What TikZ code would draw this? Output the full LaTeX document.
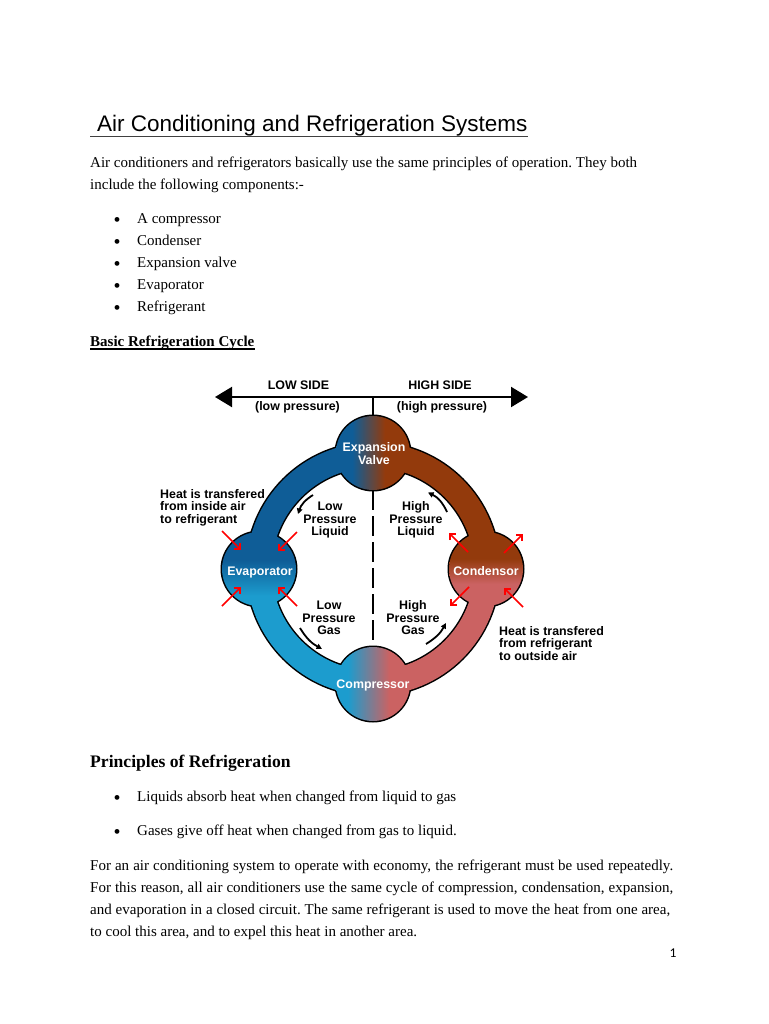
\documentclass[tikz,border=0pt]{standalone}
\usepackage{fontspec}
\setmainfont{Liberation Serif}
\newfontfamily\arial{Liberation Sans}
\newfontfamily\carlito{Carlito}
\usetikzlibrary{arrows.meta}
\definecolor{dblue}{RGB}{15,93,151}
\definecolor{lblue}{RGB}{28,156,206}
\definecolor{mbrown}{RGB}{147,58,12}
\definecolor{mpink}{RGB}{203,98,98}
\pgfdeclareverticalshading{evapsh}{100bp}{color(0bp)=(lblue); color(32bp)=(lblue); color(56bp)=(dblue); color(100bp)=(dblue)}
\pgfdeclareverticalshading{condsh}{100bp}{color(0bp)=(mpink); color(40bp)=(mpink); color(57bp)=(mbrown); color(100bp)=(mbrown)}
\pgfdeclarehorizontalshading{expsh}{100bp}{color(0bp)=(dblue); color(36bp)=(dblue); color(58bp)=(mbrown); color(100bp)=(mbrown)}
\pgfdeclarehorizontalshading{compsh}{100bp}{color(0bp)=(lblue); color(33bp)=(lblue); color(61bp)=(mpink); color(100bp)=(mpink)}
\begin{document}
\frenchspacing
\begin{tikzpicture}[x=1pt,y=-1pt,
  body/.style={font=\fontsize{15}{18}\selectfont, anchor=base west, inner sep=0},
  bodyb/.style={body, font=\bfseries\fontsize{15}{18}\selectfont},
  bul/.style={font=\fontsize{20}{20}\selectfont, anchor=base, inner sep=0},
  lbl/.style={font=\arial\bfseries\fontsize{12.4}{13}\selectfont, inner sep=0, anchor=base},
  lblw/.style={lbl, anchor=base west},
  wlbl/.style={lbl, white},
  unit/.style={circle, inner sep=0, minimum size=74pt},
  blkarr/.style={line width=1.8pt, -{Triangle[length=5.5pt,width=5.5pt]}},
  redarr/.style={red, line width=1.6pt, -{Straight Barb[length=4.5pt,width=9pt]}}]
\fill[white] (0,0) rectangle (768,1024);
\useasboundingbox (0,0) rectangle (768,1024);

% ---------- header text ----------
\node[body, font=\arial\fontsize{22.5}{26}\selectfont] (title) at (90,132) {\hspace*{7pt}Air Conditioning and Refrigeration Systems};
\draw[line width=1.5pt, black!75] ([yshift=-4.5pt]title.base west) -- ([yshift=-4.5pt]title.base east);

\node[body] (p1) at (90,168) {Air conditioners and refrigerators basically use the same principles of operation. They both};
\node[body] (p2) at (90,190) {include the following components:-};

\foreach \t [count=\i] in {A compressor, Condenser, Expansion valve, Evaporator, Refrigerant} {
  \node[bul] (bu\i) at (117,204+22*\i) {\textbullet};
  \node[body] (it\i) at (137,201+22*\i) {\t};
}

\node[bodyb] (brc) at (90,346) {Basic Refrigeration Cycle};
\draw[line width=1.1pt] ([yshift=-3pt]brc.base west) -- ([yshift=-3pt]brc.base east);

% ---------- diagram ----------
\coordinate (ctr) at (373,569);
% outline layer
\draw[black, line width=28pt] (ctr) circle [radius=114];
\foreach \p in {(259,569),(486,569),(373,453),(373,684)}
  \fill[black] \p circle [radius=38.5];
% coloured pipe quadrants
\begin{scope}
  \clip (200,400) rectangle (373,569);
  \draw[dblue, line width=25pt] (ctr) circle [radius=114];
\end{scope}
\begin{scope}
  \clip (200,569) rectangle (373,720);
  \draw[lblue, line width=25pt] (ctr) circle [radius=114];
\end{scope}
\begin{scope}
  \clip (373,400) rectangle (560,569);
  \draw[mbrown, line width=25pt] (ctr) circle [radius=114];
\end{scope}
\begin{scope}
  \clip (373,569) rectangle (560,720);
  \draw[mpink, line width=25pt] (ctr) circle [radius=114];
\end{scope}
% units
\node[unit, shading=expsh] (exp) at (373,453) {};
\node[unit, shading=evapsh] (evap) at (259,569) {};
\node[unit, shading=condsh] (cond) at (486,569) {};
\node[unit, shading=compsh] (comp) at (373,684) {};
\node[wlbl] (expt1) at (374,451.5) {Expansion};
\node[wlbl] (expt2) at (374,464) {Valve};
\node[wlbl] (evapt) at (260,575.5) {Evaporator};
\node[wlbl] (condt) at (486,575.5) {Condensor};
\node[wlbl] (compt) at (373,688) {Compressor};

% top scale
\coordinate (hl) at (215,397);
\coordinate (hr) at (528,397);
\coordinate (hm) at (373,397);
\draw[line width=2pt, {Triangle[length=17pt,width=20pt]}-{Triangle[length=17pt,width=20pt]}] (hl) -- (hr);
\draw[line width=1.3pt] (hm) -- (exp.north);
\draw[line width=1.8pt, dash pattern=on 20pt off 6pt] (exp.south) -- (comp.north);
\node[lbl] (lows) at (298.5,389) {LOW SIDE};
\node[lbl] (highs) at (440,389) {HIGH SIDE};
\node[lbl] (lowp) at (297.5,410) {(low pressure)};
\node[lbl] (highp) at (442,410) {(high pressure)};

% pressure labels
\node[lbl] (lpl1) at (330,510.5) {Low};
\node[lbl] (lpl2) at (330,523) {Pressure};
\node[lbl] (lpl3) at (330,535.5) {Liquid};
\node[lbl] (hpl1) at (416,510.5) {High};
\node[lbl] (hpl2) at (416,523) {Pressure};
\node[lbl] (hpl3) at (416,535.5) {Liquid};
\node[lbl] (lpg1) at (329,609.5) {Low};
\node[lbl] (lpg2) at (329,622) {Pressure};
\node[lbl] (lpg3) at (329,634.5) {Gas};
\node[lbl] (hpg1) at (413,609.5) {High};
\node[lbl] (hpg2) at (413,622) {Pressure};
\node[lbl] (hpg3) at (413,634.5) {Gas};

% heat labels
\node[lblw] (hl1) at (160,498) {Heat is transfered};
\node[lblw] (hl2) at (160,510.5) {from inside air};
\node[lblw] (hl3) at (160,523) {to refrigerant};
\node[lblw] (hr1) at (499,635) {Heat is transfered};
\node[lblw] (hr2) at (499,647.5) {from refrigerant};
\node[lblw] (hr3) at (499,660) {to outside air};

% flow arrows
\coordinate (a1s) at (313,495); \coordinate (a1e) at (298,514);
\coordinate (a2s) at (447,512); \coordinate (a2e) at (428,492.5);
\coordinate (a3s) at (300,628); \coordinate (a3e) at (322,649);
\coordinate (a4s) at (426,644); \coordinate (a4e) at (446,623);
\draw[blkarr] (a1s) to[bend right=20] (a1e);
\draw[blkarr] (a2s) to[bend right=20] (a2e);
\draw[blkarr] (a3s) to[bend right=15] (a3e);
\draw[blkarr] (a4s) to[bend right=15] (a4e);

% heat arrows (evaporator: inward)
\coordinate (e1s) at (222,531); \coordinate (e1e) at (241,550);
\coordinate (e2s) at (297,532); \coordinate (e2e) at (278,551);
\coordinate (e3s) at (222,606); \coordinate (e3e) at (241,587);
\coordinate (e4s) at (297,606); \coordinate (e4e) at (278,587);
\draw[redarr] (e1s) -- (e1e);
\draw[redarr] (e2s) -- (e2e);
\draw[redarr] (e3s) -- (e3e);
\draw[redarr] (e4s) -- (e4e);
% condensor
\coordinate (c1s) at (468,552); \coordinate (c1e) at (449,533);
\coordinate (c2s) at (504,553); \coordinate (c2e) at (523,534);
\coordinate (c3s) at (469,587); \coordinate (c3e) at (450,606);
\coordinate (c4s) at (523,607); \coordinate (c4e) at (504,588);
\draw[redarr] (c1s) -- (c1e);
\draw[redarr] (c2s) -- (c2e);
\draw[redarr] (c3s) -- (c3e);
\draw[redarr] (c4s) -- (c4e);

% ---------- lower text ----------
\node[body, font=\bfseries\fontsize{17.6}{20}\selectfont] (pr) at (90,767) {Principles of Refrigeration};
\node[bul] (bl1) at (117,804) {\textbullet};
\node[body] (tl1) at (137,801) {Liquids absorb heat when changed from liquid to gas};
\node[bul] (bl2) at (117,838) {\textbullet};
\node[body] (tl2) at (137,835) {Gases give off heat when changed from gas to liquid.};

\node[body] (q1) at (90,870) {\makebox[583pt][s]{For an air conditioning system to operate with economy, the refrigerant must be used repeatedly.}};
\node[body] (q2) at (90,892) {\makebox[583pt][s]{For this reason, all air conditioners use the same cycle of compression, condensation, expansion,}};
\node[body] (q3) at (90,914) {\makebox[580pt][s]{and evaporation in a closed circuit. The same refrigerant is used to move the heat from one area,}};
\node[body] (q4) at (90,936) {to cool this area, and to expel this heat in another area.};

\node[font=\carlito\fontsize{13.5}{15}\selectfont, anchor=base, inner sep=0] (pg) at (673,957) {1};
\end{tikzpicture}
\end{document}
